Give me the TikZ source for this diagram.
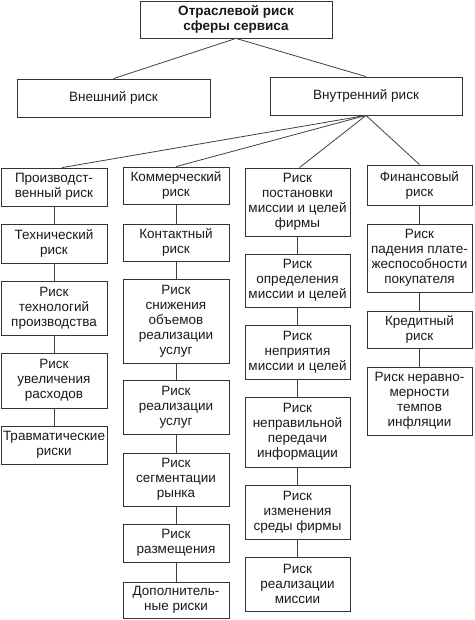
\documentclass[tikz,border=0pt]{standalone}
\usepackage{fontspec}
\setmainfont{Liberation Sans}
\begin{document}
\begin{tikzpicture}[x=1pt,y=1pt,
  box/.style={draw=black!80, line width=0.8pt, inner sep=0pt, align=center,
    font=\fontsize{13.5}{15}\selectfont, text=black!90},
  link/.style={draw=black!75, line width=0.8pt}]
\useasboundingbox (0,0) rectangle (474,-620);
\newcommand\bx[6]{\node[box, minimum width={(#4-#2)*1pt}, minimum height={(#5-#3)*1pt}] (#1) at ({(#2+#4)/2},{-(#3+#5)/2}) {#6};}
\bx{top}{140}{1}{332}{38}{\bfseries Отраслевой риск\\\bfseries сферы сервиса}
\bx{ext}{17}{79}{210}{117}{Внешний риск}
\bx{int}{270}{77}{462}{115}{Внутренний риск}
% column 1
\bx{p1}{1}{168}{107}{206}{Производст-\\венный риск}
\bx{p2}{1}{224}{107}{263}{Технический\\риск}
\bx{p3}{1}{281}{107}{335}{Риск\\технологий\\производства}
\bx{p4}{1}{353}{107}{408}{Риск\\увеличения\\расходов}
\bx{p5}{1}{426}{107}{464}{Травматические\\риски}
% column 2
\bx{c1}{123}{167}{229}{204}{Коммерческий\\риск}
\bx{c2}{123}{224}{229}{261}{Контактный\\риск}
\bx{c3}{123}{279}{229}{363}{Риск\\снижения\\объемов\\реализации\\услуг}
\bx{c4}{123}{380}{229}{434}{Риск\\реализации\\услуг}
\bx{c5}{123}{453}{229}{506}{Риск\\сегментации\\рынка}
\bx{c6}{123}{524}{229}{562}{Риск\\размещения}
\bx{c7}{123}{582}{229}{618}{Дополнитель-\\ные риски}
% column 3
\bx{m1}{245}{168}{350}{236}{Риск\\постановки\\миссии и целей\\фирмы}
\bx{m2}{245}{254}{350}{307}{Риск\\определения\\миссии и целей}
\bx{m3}{245}{325}{350}{379}{Риск\\неприятия\\миссии и целей}
\bx{m4}{245}{397}{350}{467}{Риск\\неправильной\\передачи\\информации}
\bx{m5}{245}{485}{350}{539}{Риск\\изменения\\среды фирмы}
\bx{m6}{245}{557}{350}{611}{Риск\\реализации\\миссии}
% column 4
\bx{f1}{367}{165}{472}{205}{Финансовый\\риск}
\bx{f2}{367}{224}{472}{292}{Риск\\падения плате-\\жеспособности\\покупателя}
\bx{f3}{367}{311}{472}{348}{Кредитный\\риск}
\bx{f4}{367}{367}{472}{435}{Риск неравно-\\мерности\\темпов\\инфляции}
% connectors
\draw[link] (top.south) -- (ext.north);
\draw[link] (top.south) -- (int.north);
\draw[link] (int.south) -- ([xshift=8pt]p1.north);
\draw[link] (int.south) -- (c1.north);
\draw[link] (int.south) -- ([xshift=2pt]m1.north);
\draw[link] (int.south) -- (f1.north);
\draw[link] (p1) -- (p2) (p2) -- (p3) (p3) -- (p4) (p4) -- (p5);
\draw[link] (c1) -- (c2) (c2) -- (c3) (c3) -- (c4) (c4) -- (c5) (c5) -- (c6) (c6) -- (c7);
\draw[link] (m1) -- (m2) (m2) -- (m3) (m3) -- (m4) (m4) -- (m5) (m5) -- (m6);
\draw[link] (f1) -- (f2) (f2) -- (f3) (f3) -- (f4);
\end{tikzpicture}
\end{document}
